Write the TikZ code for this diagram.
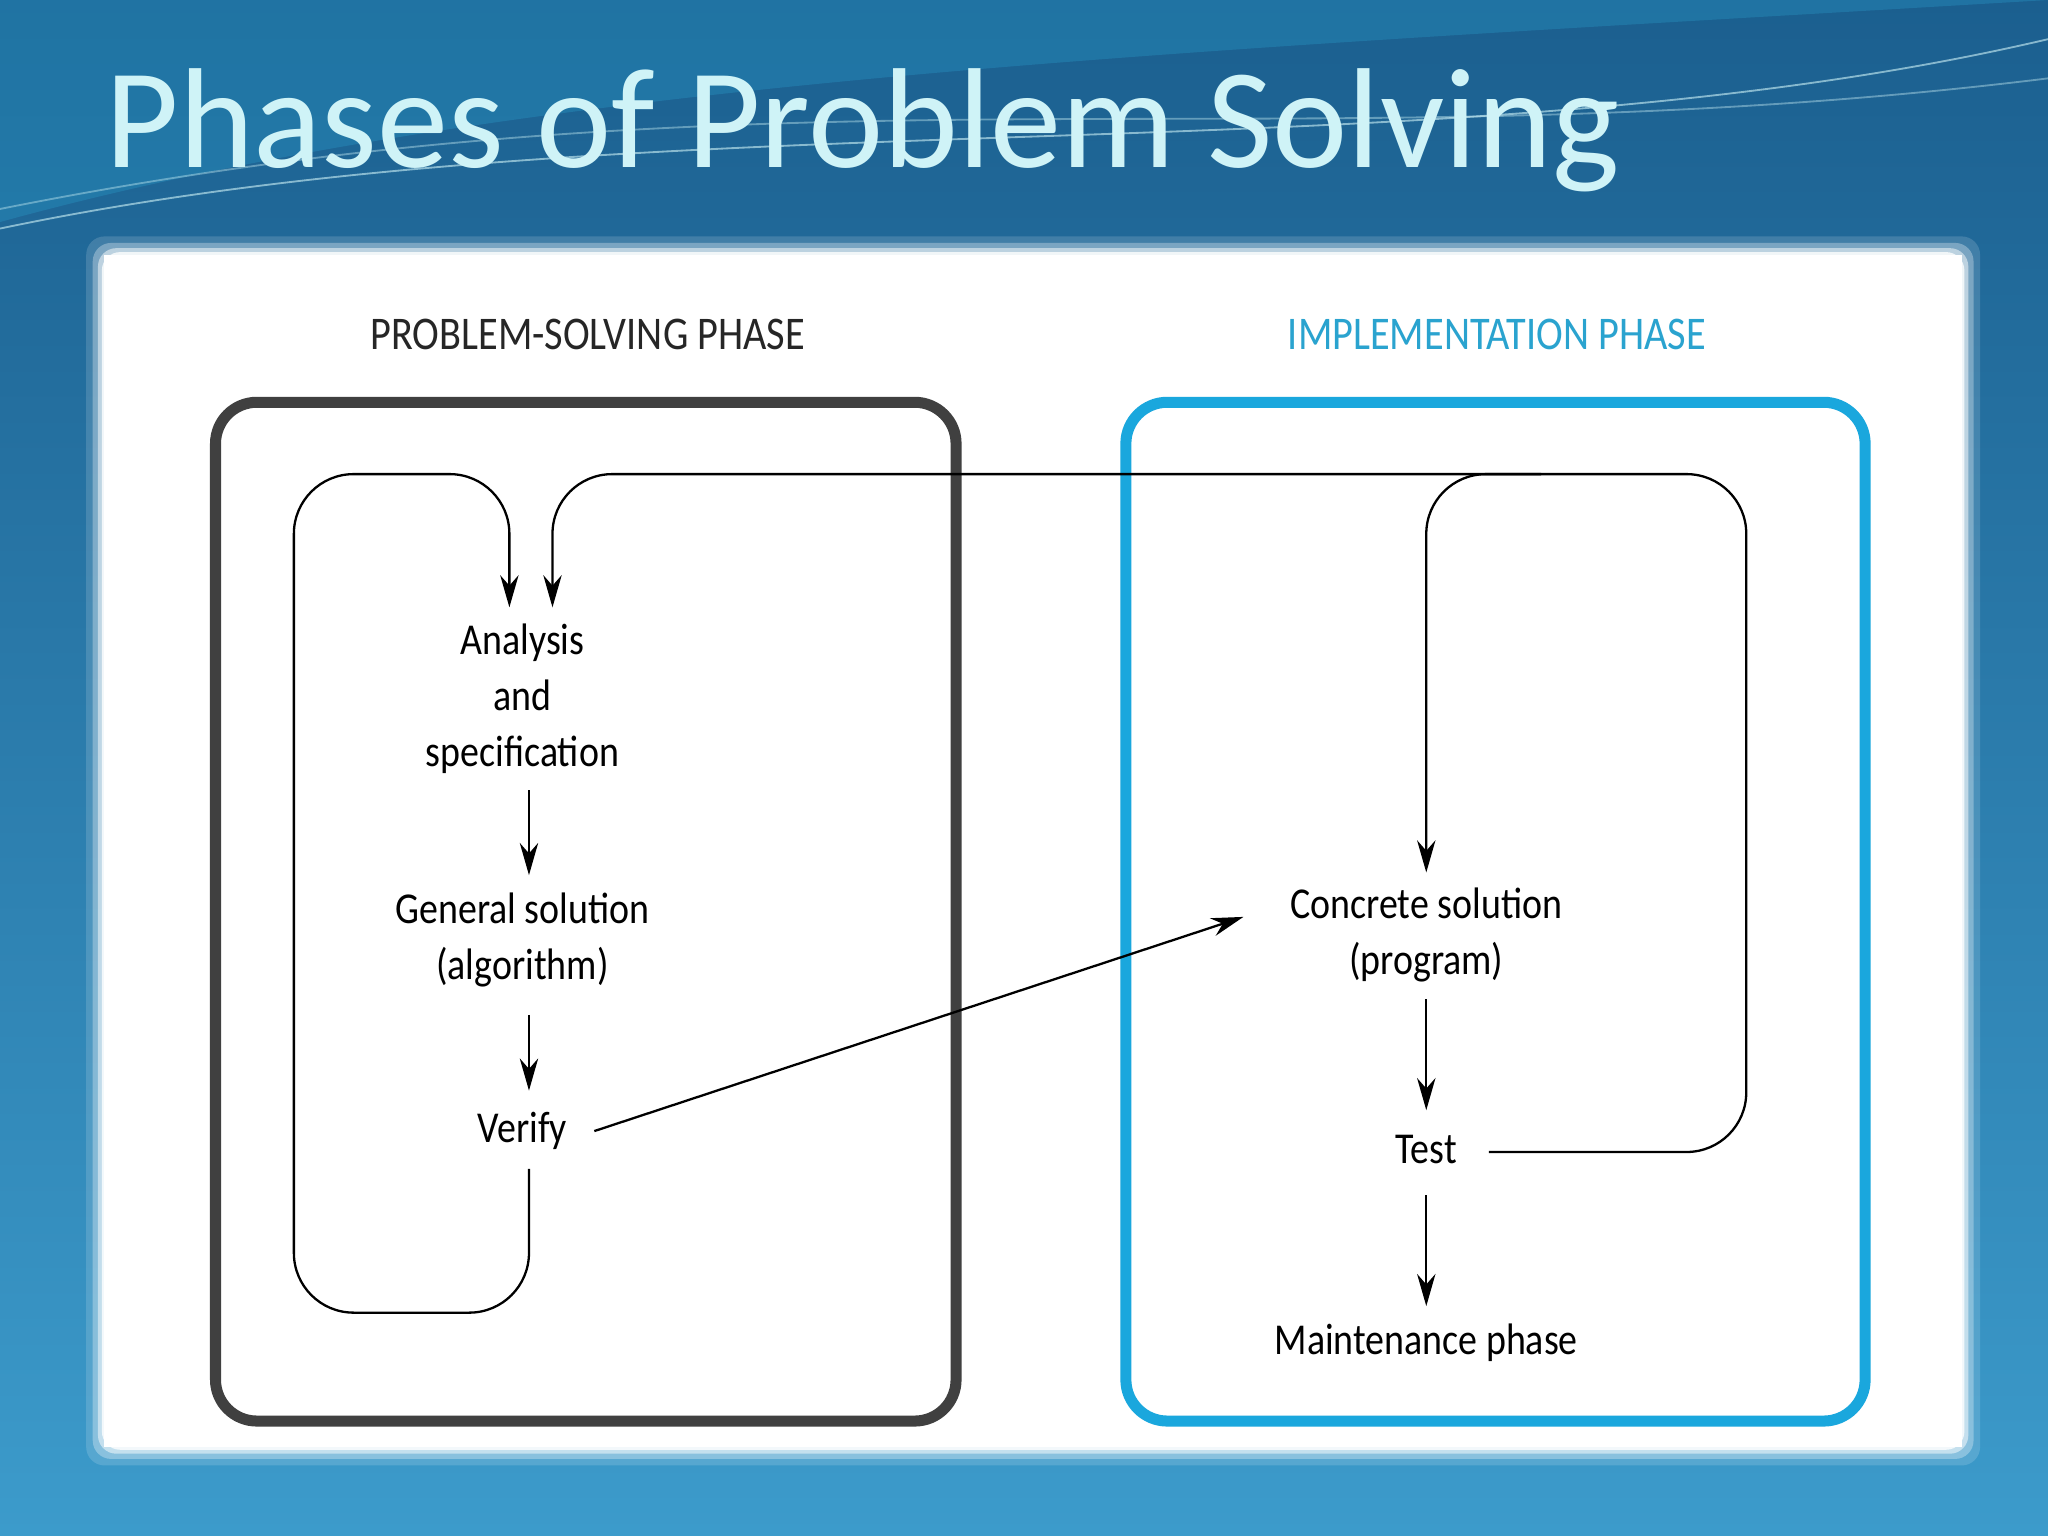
\documentclass[tikz,border=0pt]{standalone}
\usepackage{fontspec}
\setmainfont{Carlito}
\newfontfamily\narrowfont[FakeStretch=0.86]{Carlito}
\usetikzlibrary{arrows.meta}
\definecolor{slideblue}{HTML}{1B5F8F}
\definecolor{slidelight}{HTML}{3C9BCB}
\definecolor{titlecyan}{HTML}{CFF3F7}
\definecolor{implcyan}{HTML}{1AA7DD}
\definecolor{implhead}{HTML}{2AA3CF}
\begin{document}
\begin{tikzpicture}[x=0.01cm,y=-0.01cm,
  lbl/.style={inner sep=1pt,align=center,font=\narrowfont\fontsize{9.6}{12.2}\selectfont},
  flow/.style={-{Stealth[length=7pt,width=4pt]},line width=0.5pt},
  loop/.style={line width=0.5pt,rounded corners=13pt}]
% background
\shade[top color=slideblue,bottom color=slidelight] (0,0) rectangle (1568,1176);
\useasboundingbox (0,0) rectangle (1568,1176);
\fill[cyan!60!teal,opacity=0.35] (0,170) .. controls (400,60) and (900,40) .. (1568,0) -- (0,0) -- cycle;
\draw[titlecyan,opacity=0.6] (0,175) .. controls (500,70) and (1100,140) .. (1568,30);
\draw[titlecyan,opacity=0.4] (0,160) .. controls (600,40) and (1000,130) .. (1568,60);
\node[anchor=base west,inner sep=0,text=titlecyan,font=\fontsize{31}{34}\selectfont] (title) at (80,128) {Phases of Problem Solving};
% white panel
\foreach \g/\o in {14/0.15,9/0.3,5/0.5,2/0.8}
  \fill[white,opacity=\o,rounded corners=4pt] (80-\g,195-\g) rectangle (1502+\g,1108+\g);
\fill[white] (80,195) rectangle (1502,1108);
% phase boxes
\draw[line width=2.4pt,black!75,rounded corners=9pt] (165,308) rectangle (732,1088);
\draw[line width=2.4pt,implcyan,rounded corners=9pt] (862,308) rectangle (1428,1088);
\node[lbl,font=\narrowfont\fontsize{10.2}{12}\selectfont,text=black!85] (psp) at (450,256) {PROBLEM-SOLVING PHASE};
\node[lbl,font=\narrowfont\fontsize{10.2}{12}\selectfont,text=implhead] (ip) at (1146,256) {IMPLEMENTATION PHASE};
% steps
\node[lbl] (analysis) at (400,535) {Analysis\\and\\specification};
\node[lbl] (general) at (400,720) {General solution\\(algorithm)};
\node[lbl] (verify) at (400,866) {Verify};
\node[lbl] (concrete) at (1092,716) {Concrete solution\\(program)};
\node[lbl] (test) at (1092,880) {Test};
\node[lbl] (maint) at (1092,1028) {Maintenance phase};
\draw[flow] (405,605) -- (405,670);
\draw[flow] (405,777) -- (405,835);
\draw[flow] (455,866) -- (952,702);
\draw[flow] (1092,765) -- (1092,850);
\draw[flow] (1092,915) -- (1092,1000);
% loops
\coordinate (va) at (390,465);
\coordinate (vb) at (423,465);
\draw[loop,-{Stealth[length=7pt,width=4pt]}] (405,895) -- (405,1005) -- (225,1005) -- (225,363) -- (390,363) -- (va);
\draw[loop,-{Stealth[length=7pt,width=4pt]}] (1140,882) -- (1337,882) -- (1337,363) -- (423,363) -- (vb);
\draw[loop,-{Stealth[length=7pt,width=4pt]}] (1180,363) -- (1092,363) -- (1092,668);
\end{tikzpicture}
\end{document}
